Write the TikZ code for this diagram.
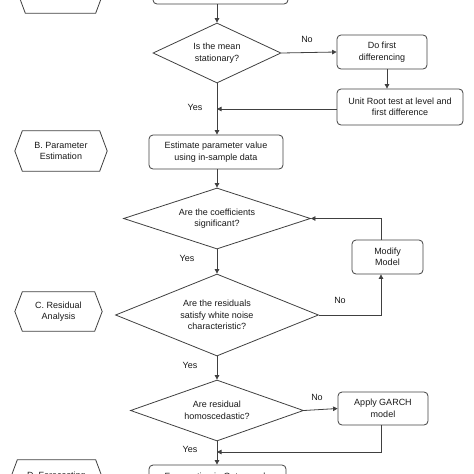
\documentclass[tikz,border=0pt]{standalone}
\usepackage{fontspec}
\setmainfont{Liberation Sans}
\usetikzlibrary{shapes.geometric,arrows.meta}
\begin{document}
\begin{tikzpicture}[x=1pt,y=-1pt,
  every node/.style={font=\fontsize{9}{11.5}\selectfont, text=black!90, align=center},
  ln/.style={draw=black!75, line width=0.8pt},
  arr/.style={ln, -{Triangle[length=4.5pt,width=4.5pt]}},
  rbox/.style={ln, rounded corners=4pt, inner sep=0pt},
  dia/.style={ln, diamond, inner sep=0pt},
  hexa/.style={inner sep=0pt, minimum height=40pt},
  lbl/.style={inner sep=0pt}
]
\useasboundingbox (0,0) rectangle (474,474);
\clip (0,0) rectangle (474,474);
\newcommand\hexpath[1]{\draw[ln] (#1.west) -- ([xshift=7.5pt]#1.north west) -- ([xshift=-7.5pt]#1.north east) -- (#1.east) -- ([xshift=-7.5pt]#1.south east) -- ([xshift=7.5pt]#1.south west) -- cycle;}
% hexagons
\node[hexa, minimum width=85pt] (hA) at (60.5,-7) {};
\node[hexa, minimum width=92pt] (hB) at (61,151) {B. Parameter\\Estimation};
\node[hexa, minimum width=87pt, minimum height=39pt] (hC) at (58.5,311.5) {C. Residual\\Analysis};
\node[hexa, minimum width=93pt] (hD) at (56.5,480) {};
\node[lbl] (hDt) at (56.5,476) {D. Forecasting};
\hexpath{hA}\hexpath{hB}\hexpath{hC}\hexpath{hD}
% boxes
\node[rbox, minimum width=135pt, minimum height=32pt] (top) at (220.5,-12) {};
\node[dia, minimum width=128pt, minimum height=60pt, aspect=2.13] (d1) at (217,53) {Is the mean\\stationary?};
\node[rbox, minimum width=90pt, minimum height=34pt] (dfd) at (382,52) {Do first\\differencing};
\node[rbox, minimum width=126pt, minimum height=36pt] (urt) at (400,107) {Unit Root test at level and\\first difference};
\node[rbox, minimum width=134pt, minimum height=34pt] (est) at (216,152) {Estimate parameter value\\using in-sample data};
\node[dia, minimum width=187pt, minimum height=61pt, aspect=3.07] (d2) at (217,218.5) {Are the coefficients\\significant?};
\node[rbox, minimum width=71pt, minimum height=34pt] (mod) at (387.5,257) {Modify\\Model};
\node[dia, minimum width=203pt, minimum height=82pt, aspect=2.48] (d3) at (217,315) {Are the residuals\\satisfy white noise\\characteristic?};
\node[dia, minimum width=173pt, minimum height=61pt, aspect=2.84] (d4) at (217,410.5) {Are residual\\homoscedastic?};
\node[rbox, minimum width=90pt, minimum height=33pt] (gar) at (383,408.5) {Apply GARCH\\model};
\node[rbox, minimum width=137pt, minimum height=34pt] (fc) at (217.5,482) {};
\node[lbl] (fct) at (217.5,477) {Forecasting in Out-sample};
% junctions
\coordinate (j1) at (217,109);
\coordinate (j2) at (217,452);
% connectors
\draw[arr] (top.south -| d1.north) -- (d1.north);
\draw[arr] (d1.east) -- (dfd.west);
\draw[arr] (dfd.south -| 387,0) -- (urt.north -| 387,0);
\draw[arr] (urt.west |- j1) -- (j1);
\draw[arr] (d1.south) -- (est.north -| d1.south);
\draw[arr] (est.south -| d2.north) -- (d2.north);
\draw[arr] (d2.south) -- (d3.north);
\draw[arr] (mod.north -| 381,0) |- (d2.east);
\draw[arr] (d3.east) -| (mod.south -| 381,0);
\draw[arr] (d3.south) -- (d4.north);
\draw[arr] (d4.east) -- (gar.west);
\draw[arr] (gar.south -| 381,0) |- (j2);
\draw[arr] (d4.south) -- (fc.north -| d4.south);
% labels
\node[lbl] (l1) at (307,39) {No};
\node[lbl] (l2) at (195,107) {Yes};
\node[lbl] (l3) at (187,258) {Yes};
\node[lbl] (l4) at (340,300) {No};
\node[lbl] (l5) at (190,365) {Yes};
\node[lbl] (l6) at (317,397) {No};
\node[lbl] (l7) at (190,449) {Yes};
\end{tikzpicture}
\end{document}
